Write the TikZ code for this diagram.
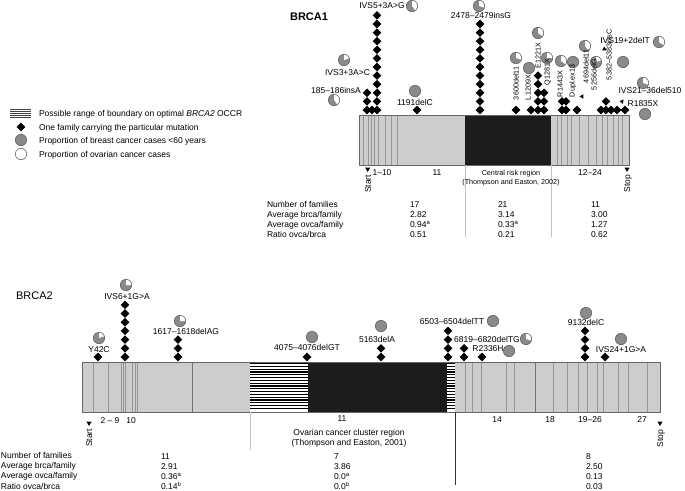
\documentclass[tikz,border=0pt]{standalone}
\usepackage{fontspec}
\setmainfont{Liberation Sans}
\usetikzlibrary{shapes.geometric,arrows.meta}

\definecolor{bargray}{RGB}{205,205,205}
\definecolor{exongray}{RGB}{150,150,150}
\definecolor{piegray}{RGB}{138,138,138}
\definecolor{pieedge}{RGB}{85,85,85}
\definecolor{divgray}{RGB}{195,195,195}
\definecolor{blockblack}{RGB}{28,28,28}

\newcommand{\fsnorm}{\fontsize{8.5}{10}\selectfont}
\newcommand{\fssmall}{\fontsize{7.2}{8}\selectfont}
\newcommand{\fstitle}{\fontsize{11}{13}\selectfont}

% pie: x, y, white share
\newcommand{\mutpie}[3]{%
  \fill[piegray] (#1,#2) circle (5.7pt);
  \ifdim #3pt>0pt
    \fill[white] (#1,#2) -- ++(90:5.7pt) arc[start angle=90, end angle={90-360*#3}, radius=5.7pt] -- cycle;
  \fi
  \draw[pieedge, line width=0.5pt] (#1,#2) circle (5.7pt);
}

\begin{document}
\begin{tikzpicture}[x=1pt, y=-1pt,
    every node/.style={inner sep=0pt, outer sep=0pt},
    txt/.style={font=\fsnorm, text height=6.1pt, text depth=0pt},
    sml/.style={font=\fssmall, text height=5.2pt, text depth=0pt},
    vtxt/.style={sml, rotate=90, anchor=west},
    dmd/.style={diamond, fill=black, minimum size=8.6pt},
    endmark/.style={regular polygon, regular polygon sides=3, shape border rotate=180, fill=black, minimum size=6pt},
    tipmark/.style={regular polygon, regular polygon sides=3, fill=black, minimum size=5pt},
    exon/.style={exongray, line width=0.5pt},
    barline/.style={black!60, line width=0.5pt},
    divline/.style={divgray, line width=0.5pt},
    stripeline/.style={black, line width=1.2pt}]
  \useasboundingbox (0,0) rectangle (685,490);

  % legend
  \fill[white] (10,108) rectangle (31,118);
  \foreach \y in {109,111,...,117}
    \draw[black!75, line width=0.8pt] (10,\y) -- (31,\y);
  \node[txt, anchor=west] (lg1) at (39,113) {Possible range of boundary on optimal \textit{BRCA2} OCCR};
  \node[dmd] (lgd) at (21,127) {};
  \node[txt, anchor=west] (lg2) at (39,127) {One family carrying the particular mutation};
  \mutpie{21}{140}{0}
  \node[txt, anchor=west] (lg3) at (39,140) {Proportion of breast cancer cases <60 years};
  \draw[pieedge, line width=0.5pt, fill=white] (21,154) circle (5.7pt);
  \node[txt, anchor=west] (lg4) at (39,154) {Proportion of ovarian cancer cases};

  % BRCA1
  \node[font=\fstitle\bfseries, text height=8pt, text depth=0pt] (t1) at (309,16) {BRCA1};
  \fill[bargray] (359,115) rectangle (629,165);
  \foreach \x in {363,368,371,374,378,385,391,397,557,561,567,571,579,588,596,602,607,613,618,622}
    \draw[exon] (\x,115) -- (\x,165);
  \fill[blockblack] (465,115) rectangle (551,165);
  \draw[barline] (359,115) rectangle (629,165);
  \draw[divline] (465,165) -- (465,237);
  \draw[divline] (551,165) -- (551,237);

  \foreach \x/\n in {367/3,372/1,377/12,417/1,480/11,516/1,531/1,538/5,544/3,562/2,566/2,577/1,601/1,606/2,611/1,617/1,625/1}
    \foreach \k in {1,...,\n}
      \node[dmd] (a\x-\k) at (\x,{110-8.6*(\k-1)}) {};

  \foreach \x/\y/\w in {334/100/0.4,344/60/0.2,412/6/0.4,415/91/0,479/6/0.3,516/58/0.3,529/68/0,538/33/0.35,547/58/0.25,561/61/0.35,573/62/0,585/46/0.4,596/62/0.2,623/62/0,659/42/0.35,643/83/0.3,645/114/0}
    {\mutpie{\x}{\y}{\w}}

  \node[txt] (m185) at (336,90) {185–186insA};
  \node[txt] (mivs3) at (347.5,72) {IVS3+3A>C};
  \node[txt] (mivs5) at (382,5) {IVS5+3A>G};
  \node[txt] (m1191) at (415,102) {1191delC};
  \node[txt] (m2478) at (481,15) {2478–2479insG};
  \node[txt] (mivs19) at (625,40) {IVS19+2delT};
  \node[txt] (mivs21) at (650,90) {IVS21–36del510};
  \node[txt] (mr1835) at (643,103) {R1835X};
  \node[vtxt] (m3600) at (516,100) {3600del11};
  \node[vtxt] (ml1209) at (528,100) {L1209X};
  \node[vtxt] (me1221) at (538,68) {E1221X};
  \node[vtxt] (mq1281) at (547,85) {Q1281X};
  \node[vtxt] (mr1443) at (560,97) {R1443X};
  \node[vtxt] (mdupl) at (572,97) {Dupl.ex13};
  \node[vtxt] (m4694) at (586,83) {4694del11};
  \node[vtxt] (m5256) at (594,90) {5256delG};
  \node[vtxt] (m5382) at (609,80) {5382–5383insC};

  \node[tipmark, shape border rotate=-30] (p4694) at (582,96.5) {};
  \node[tipmark] (pivs19) at (604.3,49) {};
  \node[tipmark, shape border rotate=-40] (pivs21) at (622,101.5) {};

  \node[endmark] (st1) at (367.7,169) {};
  \node[txt, rotate=90, anchor=east] (st1t) at (367.7,175) {Start};
  \node[endmark] (sp1) at (627,169) {};
  \node[txt, rotate=90, anchor=east] (sp1t) at (627,175) {Stop};
  \node[txt] (e1a) at (382,172) {1–10};
  \node[txt] (e1b) at (437,172) {11};
  \node[sml] (crr) at (511,172.5) {Central risk region};
  \node[sml] (crr2) at (511,181.7) {(Thompson and Easton, 2002)};
  \node[txt] (e1c) at (590,172) {12–24};

  \node[txt, anchor=west] (r1a) at (267,204) {Number of families};
  \node[txt, anchor=west] (r1b) at (267,214) {Average brca/family};
  \node[txt, anchor=west] (r1c) at (267,224) {Average ovca/family};
  \node[txt, anchor=west] (r1d) at (267,234) {Ratio ovca/brca};
  \foreach \y/\u/\v/\s [count=\i] in {204/17/21/11, 214/2.82/3.14/3.00, 224/0.94\textsuperscript{a}/0.33\textsuperscript{a}/1.27, 234/0.51/0.21/0.62} {
    \node[txt, anchor=west] (v1a\i) at (410,\y) {\u};
    \node[txt, anchor=west] (v1b\i) at (498,\y) {\v};
    \node[txt, anchor=west] (v1c\i) at (591,\y) {\s};
  }

  % BRCA2
  \node[font=\fstitle, text height=8pt, text depth=0pt] (t2) at (34.5,295) {BRCA2};
  \fill[bargray] (82,362) rectangle (660,412);
  \foreach \x in {93,108,121,123,125,132,135,137,465,472,481,506,514,553,567,578,587,597,603,618,628,647}
    \draw[exon] (\x,362) -- (\x,412);
  \draw[black!55, line width=0.6pt] (192,362) -- (192,412);
  \draw[black!55, line width=0.6pt] (535,362) -- (535,412);
  \fill[white] (250,362) rectangle (455,412);
  \foreach \y in {363.5,366.3,...,411}
    \draw[stripeline] (250,\y) -- (455,\y);
  \fill[blockblack] (308,362) rectangle (447,412);
  \draw[barline] (82,362) rectangle (660,412);
  \draw[divline] (250,412) -- (250,450);
  \draw[black!80, line width=0.6pt] (455,412) -- (455,485);

  \foreach \x/\n in {98/1,125/7,178/3,307/1,381/2,448/4,464/2,482/1,585/4,605/1}
    \foreach \k in {1,...,\n}
      \node[dmd] (b\x-\k) at (\x,{357-8.7*(\k-1)}) {};

  \foreach \x/\y/\w in {99/338/0.2,126/285/0.25,180/321/0.25,312/337/0,381/326/0,493/321/0,526/339/0.3,509/351/0,586/313/0,621/339/0}
    {\mutpie{\x}{\y}{\w}}

  \node[txt] (my42) at (99,349) {Y42C};
  \node[txt] (mivs6) at (127,296) {IVS6+1G>A};
  \node[txt] (m1617) at (186,331.5) {1617–1618delAG};
  \node[txt] (m4075) at (307,347.5) {4075–4076delGT};
  \node[txt] (m5163) at (377,339.5) {5163delA};
  \node[txt] (m6503) at (452,321) {6503–6504delTT};
  \node[txt] (m6819) at (487,339) {6819–6820delTG};
  \node[txt] (mr2336) at (488,348) {R2336H};
  \node[txt] (m9132) at (586,322) {9132delC};
  \node[txt] (mivs24) at (621,349) {IVS24+1G>A};

  \node[endmark] (st2) at (89,423) {};
  \node[txt, rotate=90, anchor=east] (st2t) at (89,429) {Start};
  \node[endmark] (sp2) at (660,423) {};
  \node[txt, rotate=90, anchor=east] (sp2t) at (660,430) {Stop};
  \node[txt] (e2a) at (110,420) {2 – 9};
  \node[txt] (e2b) at (131,420) {10};
  \node[txt] (e2c) at (342,418) {11};
  \node[txt] (occr) at (349,432) {Ovarian cancer cluster region};
  \node[txt] (occr2) at (349,442) {(Thompson and Easton, 2001)};
  \node[txt] (e2d) at (497,419) {14};
  \node[txt] (e2e) at (550,419) {18};
  \node[txt] (e2f) at (590,419) {19–26};
  \node[txt] (e2g) at (642,419) {27};

  \node[txt, anchor=west] (r2a) at (1,455) {Number of families};
  \node[txt, anchor=west] (r2b) at (1,465) {Average brca/family};
  \node[txt, anchor=west] (r2c) at (1,475) {Average ovca/family};
  \node[txt, anchor=west] (r2d) at (1,486) {Ratio ovca/brca};
  \foreach \y/\u/\v/\s [count=\i] in {456/11/7/8, 466/2.91/3.86/2.50, 476/0.36\textsuperscript{a}/0.0\textsuperscript{a}/0.13, 486.5/0.14\textsuperscript{b}/0.0\textsuperscript{b}/0.03} {
    \node[txt, anchor=west] (v2a\i) at (161,\y) {\u};
    \node[txt, anchor=west] (v2b\i) at (334,\y) {\v};
    \node[txt, anchor=west] (v2c\i) at (586,\y) {\s};
  }
\end{tikzpicture}
\end{document}
